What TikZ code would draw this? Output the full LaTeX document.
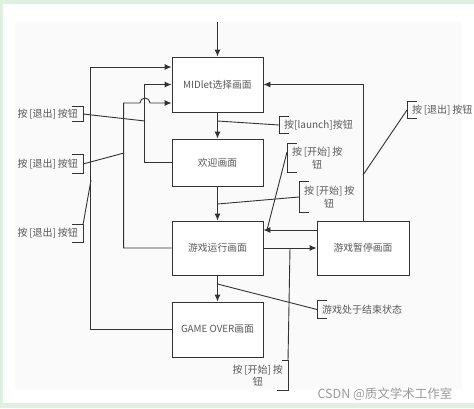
\documentclass[tikz,border=0pt]{standalone}
\usepackage{fontspec}
\newfontfamily\cjk{Noto Sans CJK SC}
\usepackage{tikz}
\usetikzlibrary{arrows.meta}
\tikzset{
    line/.style={draw=black!80, line width=0.9pt},
    arr/.style={line, -{Latex[length=7pt,width=6pt]}},
    screen/.style={line, fill=white, minimum width=91pt, inner sep=0pt,
        font=\cjk\fontsize{9.8}{11}\selectfont, text=black!65},
    note/.style={inner xsep=5pt, inner ysep=0pt, align=center,
        font=\cjk\fontsize{10}{12.5}\selectfont, text=black!65},
}
\begin{document}
\begin{tikzpicture}[x=1pt, y=-1pt]
\useasboundingbox (0,0) rectangle (474,408);
\fill[green!50!black!12] (0,0) rectangle (474,408);
\fill[white] (3,4) rectangle (474,403);
\fill[black!2] (15,22) rectangle (462,389);

% screens
\node[screen, minimum height=55pt] (midlet) at (217.5,84.5) {MIDlet选择画面};
\node[screen, minimum height=47pt] (welcome) at (217.5,162.5) {欢迎画面};
\node[screen, minimum height=54pt] (run) at (217.5,248) {游戏运行画面};
\node[screen, minimum height=55pt] (over) at (217.5,329.5) {GAME OVER画面};
\node[screen, minimum width=92pt, minimum height=54pt] (pause) at (363,248) {游戏暂停画面};

% transitions
\coordinate (start) at (217.5,22);
\draw[arr] (start) -- (midlet);
\draw[arr] (midlet) -- (welcome);
\draw[arr] (welcome) -- (run);
\draw[arr] (run) -- (over);
\draw[arr] (over.west) -- ++(-81,0) |- ([yshift=17.5pt]midlet.west);
\draw[arr] (welcome.west) -- ++(-27,0) |- (midlet.west);
\draw[arr] (run.west) -- ++(-48,0) |- (140,103) arc (180:0:5pt) -- ([yshift=-18.5pt]midlet.west);
\draw[arr] (pause.north) |- (midlet.east);
\draw[arr] ([yshift=18pt]pause.west) -- ([yshift=18pt]run.east);
\draw[arr] (run.east) -- (pause.west);

% points the notes refer to
\coordinate (p1) at (145,121);
\coordinate (p2) at (124,153);
\coordinate (p3) at (91,180);
\coordinate (p4) at (217.5,121);
\coordinate (p5) at (267,230);
\coordinate (p6) at (217.5,204);
\coordinate (p7) at (363,175);
\coordinate (p8) at (217.5,284);
\coordinate (p9) at (290,248);

% notes on the left
\node[note, anchor=east, minimum height=14pt] (exit1) at (83,114) {按\,[退出]\,按钮};
\node[note, anchor=east, minimum height=18pt] (exit2) at (83,164) {按\,[退出]\,按钮};
\node[note, anchor=east, minimum height=17pt] (exit3) at (83,233.5) {按\,[退出]\,按钮};
\foreach \n in {exit1,exit2,exit3}
    \draw[line] ([xshift=-11pt]\n.north east) -- (\n.north east) -- (\n.south east) -- ([xshift=-11pt]\n.south east);
\draw[line] (exit1.east) -- (p1);
\draw[line] (exit2.east) -- (p2);
\draw[line] (exit3.north east) -- (p3);

% notes on the right
\node[note, anchor=west, minimum height=16pt] (launch) at (279,125) {按[launch]按钮};
\node[note, anchor=west, minimum height=28pt] (start1) at (287,158) {按\,[开始]\,按\\钮};
\node[note, anchor=west, minimum height=30pt] (start2) at (299,197) {按\,[开始]\,按\\钮};
\node[note, anchor=west, minimum height=16pt] (exit4) at (407,110) {按\,[退出]\,按钮};
\node[note, anchor=west, minimum height=17pt] (ended) at (317,309.5) {游戏处于结束状态};
\foreach \n in {launch,start1,start2,exit4,ended}
    \draw[line] ([xshift=10pt]\n.north west) -- (\n.north west) -- (\n.south west) -- ([xshift=10pt]\n.south west);
\draw[line] (launch.west) -- (p4);
\draw[line] ([yshift=6pt]start1.west) -- (p5);
\draw[line] (start2.west) -- (p6);
\draw[line] (exit4.west) -- (p7);
\draw[line] (ended.west) -- (p8);

% note at the bottom
\node[note, anchor=east, minimum height=29pt] (start3) at (288,375.5) {按\,[开始]\,按\\钮};
\draw[line] ([xshift=-6pt]start3.north east) -- (start3.north east) -- (start3.south east) -- ([xshift=-11pt]start3.south east);
\draw[line] (start3.north east) -- (p9);

\node[font=\cjk\fontsize{12.5}{14}\selectfont, text=black!40] (mark) at (385,394) {CSDN @质文学术工作室};
\end{tikzpicture}
\end{document}
